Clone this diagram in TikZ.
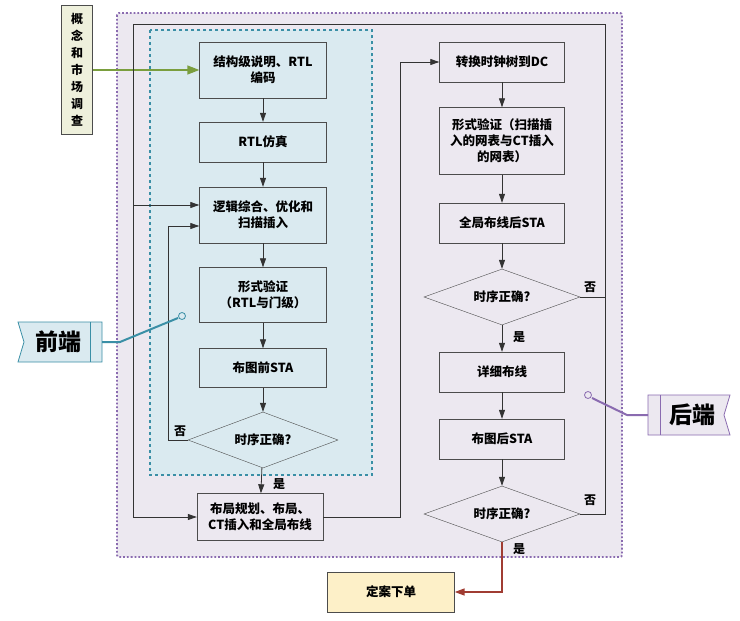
\documentclass[tikz,border=0pt]{standalone}
\usepackage{fontspec}
\setmainfont{Noto Sans CJK SC}
\newfontfamily\cjk{Noto Sans CJK SC}
\usetikzlibrary{shapes.geometric,arrows.meta}
\definecolor{lav}{HTML}{ECE8F0}
\definecolor{teal1}{HTML}{DAEAF0}
\definecolor{tealL}{HTML}{3A8FA6}
\definecolor{purp}{HTML}{8A6BB0}
\begin{document}
\begin{tikzpicture}[x=1pt,y=-1pt,
  box/.style={draw=black!70,fill=teal1,font=\cjk\bfseries\fontsize{12.5}{16}\selectfont,align=center,minimum width=127pt,inner sep=1pt},
  rbox/.style={box,fill=lav,minimum width=125pt},
  dia/.style={diamond,aspect=2.8,draw=black!70,font=\cjk\bfseries\fontsize{12.5}{14}\selectfont,inner sep=0pt,minimum width=150pt,minimum height=56pt},
  arr/.style={-{Triangle[length=9pt,width=6pt]},black!80,line width=0.8pt},
  ln/.style={black!80,line width=0.8pt},
  lbl/.style={font=\cjk\bfseries\fontsize{12}{14}\selectfont}]
\useasboundingbox (0,0) rectangle (740,621);
\fill[white] (0,0) rectangle (740,621);
\draw[purp,dotted,line width=1.8pt,fill=lav,rounded corners=2pt] (117,13) rectangle (622,557);
\draw[tealL,dashed,line width=1.2pt,fill=teal1] (150,30) rectangle (372,475);
% left column
\node[box,minimum height=56pt] (a1) at (263,70) {结构级说明、RTL\\编码};
\node[box,minimum height=40pt] (a2) at (263,142) {RTL仿真};
\node[box,minimum height=56pt] (a3) at (263,215) {逻辑综合、优化和\\扫描插入};
\node[box,minimum height=55pt] (a4) at (263,295) {形式验证\\（RTL与门级）};
\node[box,minimum height=39pt] (a5) at (263,368) {布图前STA};
\node[dia,fill=teal1] (d0) at (263,440) {时序正确?};
\node[rbox,minimum width=126pt,minimum height=47pt] (a6) at (260,517) {布局规划、布局、\\CT插入和全局布线};
% right column
\node[rbox,minimum height=40pt] (b1) at (502,62) {转换时钟树到DC};
\node[rbox,minimum height=67pt] (b2) at (502,141) {形式验证（扫描插\\入的网表与CT插入\\的网表）};
\node[rbox,minimum height=40pt] (b3) at (502,223) {全局布线后STA};
\node[dia,fill=lav,minimum width=156pt] (d1) at (502,297) {时序正确?};
\node[rbox,minimum height=40pt] (b4) at (502,372) {详细布线};
\node[rbox,minimum height=40pt] (b5) at (502,439) {布图后STA};
\node[dia,fill=lav,minimum width=156pt] (d2) at (502,514) {时序正确?};
\node[draw=black!70,fill={rgb,255:red,253;green,240;blue,200},minimum width=127pt,minimum height=40pt,font=\cjk\bfseries\fontsize{12.5}{14}\selectfont] (fin) at (391,592) {定案下单};
\node[draw=black!70,fill={rgb,255:red,238;green,240;blue,220},minimum width=31pt,minimum height=129pt,align=center,inner sep=1pt,font=\cjk\bfseries\fontsize{12}{17}\selectfont] (con) at (77,70) {概\\念\\和\\市\\场\\调\\查};
% arrows left
\draw[arr] (a1) -- (a2);
\draw[arr] (a2) -- (a3);
\draw[arr] (a3) -- (a4);
\draw[arr] (a4) -- (a5);
\draw[arr] (a5) -- (d0);
\draw[arr] (d0) -- (a6);
\node[lbl] at (279,484) {是};
\draw[arr] (d0.west) -- (168,440) -- (168,226) -- (a3.west |- 0,226);
\node[lbl] at (180,431) {否};
\draw[-{Triangle[length=12pt,width=9pt]},line width=1.5pt,color={rgb,255:red,122;green,158;blue,62}] (con.east |- 0,70) -- (a1.west |- 0,70);
% big loop
\coordinate (c1) at (605,297);
\coordinate (c2) at (605,514);
\draw[ln] (d1.east) -- (c1);
\draw[ln] (d2.east) -- (c2) -- (605,24) -- (133,24) -- (133,517);
\draw[arr] (133,517) -- (a6.west);
\draw[arr] (133,205) -- (a3.west |- 0,205);
\node[lbl] at (590,287) {否};
\node[lbl] at (590,500) {否};
\draw[arr] (a6.east) -- (400,517) -- (400,62) -- (b1.west);
\draw[arr] (b1) -- (b2);
\draw[arr] (b2) -- (b3);
\draw[arr] (b3) -- (d1);
\draw[arr] (d1) -- (b4);
\node[lbl] at (519,337) {是};
\draw[arr] (b4) -- (b5);
\draw[arr] (b5) -- (d2);
\draw[-{Triangle[length=10pt,width=7pt]},line width=1.5pt,color={rgb,255:red,160;green,60;blue,50}] (d2.south) -- (502,592) -- (fin.east);
\node[lbl] at (519,549) {是};
% banners
\draw[tealL,fill=teal1,line width=0.8pt] (18,322) -- (102,322) -- (102,362) -- (18,362) -- (24,342) -- cycle;
\draw[tealL,line width=0.8pt] (90,322) -- (90,362);
\node[font=\cjk\bfseries\fontsize{23}{25}\selectfont] (fe) at (58,342) {前端};
\draw[tealL,line width=2pt] (102,342) -- (120,342) -- (178,318);
\node[circle,draw=tealL,fill=teal1,inner sep=0pt,minimum size=7pt,line width=0.8pt] (fc) at (182,316) {};
\draw[purp,fill=lav,line width=0.8pt] (648,395) -- (730,395) -- (724,415) -- (730,435) -- (648,435) -- cycle;
\draw[purp,line width=0.8pt] (660,395) -- (660,435);
\node[font=\cjk\bfseries\fontsize{23}{25}\selectfont] (be) at (692,415) {后端};
\draw[purp,line width=2pt] (648,415) -- (627,415) -- (592,398);
\node[circle,draw=purp,fill=lav,inner sep=0pt,minimum size=7pt,line width=0.8pt] (bc) at (588,395) {};
\end{tikzpicture}
\end{document}
